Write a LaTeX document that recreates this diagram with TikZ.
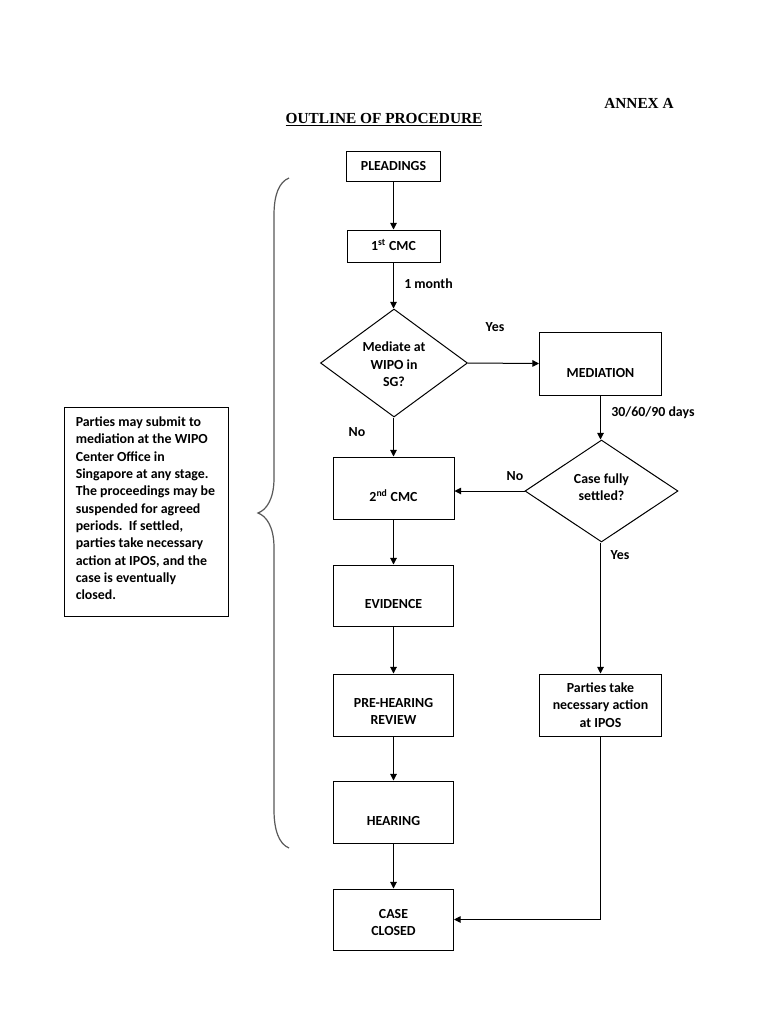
\documentclass[tikz,border=0pt]{standalone}
\usepackage{fontspec}
\setmainfont{Carlito}
\newfontfamily\titlefont{Liberation Serif}
\usetikzlibrary{shapes.geometric,arrows.meta}
\begin{document}
\begin{tikzpicture}[x=0.75pt,y=-0.75pt,
  every node/.style={inner sep=0pt, font=\fontsize{10.4}{13}\selectfont\bfseries},
  box/.style 2 args={draw, line width=0.75pt, minimum width=#1*0.75pt, minimum height=#2*0.75pt},
  dia/.style 2 args={draw, diamond, line width=0.75pt, minimum width=#1*0.75pt, minimum height=#2*0.75pt},
  txt/.style={align=center},
  title/.style={font=\titlefont\fontsize{11.5}{14}\selectfont\bfseries},
  arr/.style={-{Triangle[length=5pt,width=5pt]}, line width=0.75pt},
  brace/.style={draw=black!65, line width=0.9pt}
]
\fill[white] (0,0) rectangle (768,1024);
\useasboundingbox (0,0) rectangle (768,1024);

% titles
\node[title] (annex) at (639,103) {ANNEX A};
\node[title] (outline) at (384,120) {\underline{OUTLINE OF PROCEDURE}};

% main column boxes
\node[box={94}{30}] (plead) at (393.5,166) {};
\node[txt] (pleadt) at (393.5,165.5) {PLEADINGS};
\node[box={93}{32}] (cmc1) at (393.5,246) {};
\node[txt] (cmc1t) at (393.5,245) {1\textsuperscript{st} CMC};
\node[dia={147}{108}] (dia1) at (394,363) {};
\node[txt] (dia1t) at (394,364.5) {Mediate at\\WIPO in\\SG?};
\node[box={121}{62}] (cmc2) at (393.5,488) {};
\node[txt] (cmc2t) at (393.5,496) {2\textsuperscript{nd} CMC};
\node[box={120}{61}] (evid) at (393.5,595.5) {};
\node[txt] (evidt) at (393.5,604) {EVIDENCE};
\node[box={120}{62}] (prehr) at (393.5,705) {};
\node[txt] (prehrt) at (393.5,711.5) {PRE-HEARING\\REVIEW};
\node[box={120}{62}] (hear) at (393.5,812) {};
\node[txt] (heart) at (393.5,821) {HEARING};
\node[box={120}{61}] (closed) at (393.5,919.5) {};
\node[txt] (closedt) at (393.5,922.5) {CASE\\CLOSED};

% right column
\node[box={122}{63}] (med) at (600.5,363.5) {};
\node[txt] (medt) at (600.5,372.5) {MEDIATION};
\node[dia={153}{102}] (dia2) at (601.5,491) {};
\node[txt] (dia2t) at (601.5,487) {Case fully\\settled?};
\node[box={122}{62}] (ipos) at (600.5,705) {};
\node[txt] (ipost) at (600.5,705) {Parties take\\necessary action\\at IPOS};

% side note
\node[box={164}{209}] (note) at (146,511.5) {};
\node[align=left, anchor=west] (notet) at (75.5,508.5) {Parties may submit to\\mediation at the WIPO\\Center Office in\\Singapore at any stage.\\The proceedings may be\\suspended for agreed\\periods.\ \ If settled,\\parties take necessary\\action at IPOS, and the\\case is eventually\\closed.};

% labels
\node[anchor=west] (lmonth) at (404,284) {1 month};
\node (lyes1) at (495,327) {Yes};
\node (lno1) at (357,432) {No};
\node[anchor=west] (ldays) at (611,413) {30/60/90 days};
\node (lno2) at (515,476) {No};
\node (lyes2) at (620,555) {Yes};

% connectors
\draw[arr] (plead.south) -- (cmc1.north);
\draw[arr] (cmc1.south) -- (cmc1.south |- dia1.north);
\draw[arr] (dia1.east) -- (med.west);
\draw[arr] (dia1.south -| cmc2.north) -- (cmc2.north);
\draw[arr] (med.south) -- (med.south |- dia2.north);
\draw[arr] (dia2.west) -- (dia2.west -| cmc2.east);
\draw[arr] (cmc2.south) -- (evid.north);
\draw[arr] (evid.south) -- (prehr.north);
\draw[arr] (prehr.south) -- (hear.north);
\draw[arr] (hear.south) -- (closed.north);
\draw[arr] (dia2.south -| ipos.north) -- (ipos.north);
\draw[arr] (ipos.south) |- (closed.east);

% brace
\draw[brace] (289,178) .. controls (279,182) and (274,195) .. (274,215) -- (274,478)
  .. controls (274,500) and (266,510) .. (258,513)
  .. controls (266,516) and (274,526) .. (274,548) -- (274,810)
  .. controls (274,830) and (279,844) .. (289,848);
\end{tikzpicture}
\end{document}
